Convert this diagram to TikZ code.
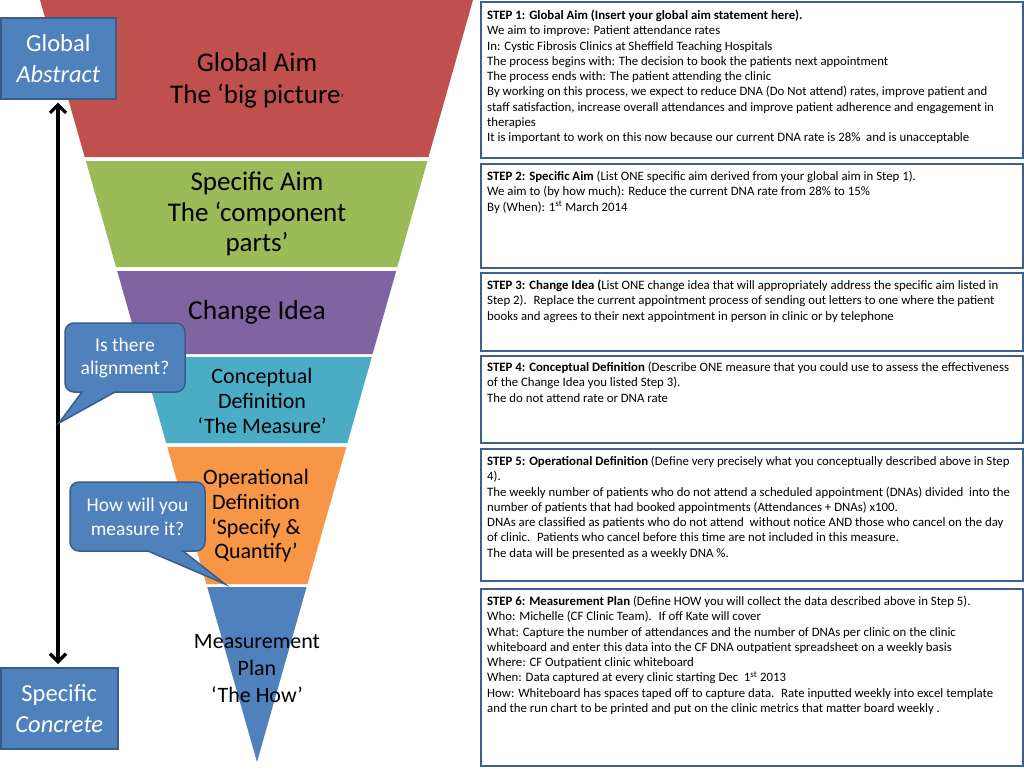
\documentclass[tikz,border=0pt]{standalone}
\usepackage{fontspec}
\setmainfont{Carlito}
\usetikzlibrary{arrows.meta}
\definecolor{cred}{HTML}{C0504D}
\definecolor{cgreen}{HTML}{9BBB59}
\definecolor{cpurple}{HTML}{8064A2}
\definecolor{cteal}{HTML}{4BACC6}
\definecolor{corange}{HTML}{F79646}
\definecolor{cblue}{HTML}{4F81BD}
\definecolor{cdark}{HTML}{385D8A}
\definecolor{cframe}{HTML}{3F5F8C}
\tikzset{
  funlabel/.style={align=center, text=black, inner sep=0},
  sidebox/.style={draw=cdark, line width=1.6pt, fill=cblue, text=white, align=center, inner sep=0, font=\fontsize{24.5}{31}\selectfont},
  callout/.style={draw=cdark, line width=1.5pt, fill=cblue},
  calltext/.style={text=white, align=center, inner sep=0, font=\fontsize{19.5}{23.5}\selectfont},
  stepbox/.style={draw=cframe, line width=2pt, fill=white, inner sep=0, anchor=north west, minimum width=542},
  steptext/.style={anchor=north west, align=left, inner sep=0, font=\fontsize{12.8}{15.25}\selectfont},
}
\begin{document}
\begin{tikzpicture}[x=1pt,y=-1pt]
\useasboundingbox (0,0) rectangle (1024,768);
\fill[white] (0,0) rectangle (1024,768);
% funnel
\fill[cred] (40,0) -- (473,0) -- (428.5,157) -- (84.7,157) -- cycle;
\fill[cgreen] (85.9,161) -- (427.4,161) -- (397.3,267) -- (116.0,267) -- cycle;
\fill[cpurple] (117.2,271) -- (396.2,271) -- (372.6,354) -- (140.8,354) -- cycle;
\fill[cteal] (141.7,357) -- (371.8,357) -- (347.4,443) -- (166.2,443) -- cycle;
\fill[corange] (167.3,447) -- (346.3,447) -- (307.4,584) -- (206.3,584) -- cycle;
\fill[cblue] (207.2,587) -- (306.6,587) -- (257,762) -- cycle;
% funnel labels
\node[funlabel, font=\fontsize{27}{32}\selectfont] (l1) at (257,80) {Global Aim\\The ‘big picture{\fontsize{13}{13}\selectfont ’}};
\node[funlabel, font=\fontsize{27}{30.5}\selectfont] (l2) at (257,214) {Specific Aim\\The ‘component\\parts’};
\node[funlabel, font=\fontsize{27.5}{30}\selectfont] (l3) at (257,312) {Change Idea};
\node[funlabel, font=\fontsize{22}{25}\selectfont] (l4) at (262,401) {Conceptual\\Definition\\‘The Measure’};
\node[funlabel, font=\fontsize{22}{24.7}\selectfont] (l5) at (256,516) {Operational\\Definition\\‘Specify \&\\Quantify’};
\node[funlabel, font=\fontsize{22}{27}\selectfont] (l6) at (257,669) {Measurement\\Plan\\‘The How’};
% side boxes
\node[sidebox, minimum width=115, minimum height=81, anchor=north west] (ga) at (0,17) {Global\\\textit{Abstract}};
\node[sidebox, minimum width=117, minimum height=81, anchor=north west] (sc) at (0,667) {Specific\\\textit{Concrete}};
\draw[line width=3.2pt, {Straight Barb[length=8pt,width=16pt,line width=3.2pt]}-{Straight Barb[length=8pt,width=16pt,line width=3.2pt]}] ([yshift=-3pt]ga.south -| 58,0) -- ([yshift=3pt]sc.north -| 58,0);
% callouts
\coordinate (t1) at (59,423);
\draw[callout] (115,392) [rounded corners=9pt] -- (185,392) -- (185,323) -- (65,323) -- (65,392) [sharp corners] -- (82,392) -- (t1) -- cycle;
\node[calltext] (c1) at (125,358) {Is there\\alignment?};
\coordinate (t2) at (225,584);
\draw[callout] (183,551) [rounded corners=9pt] -- (205,551) -- (205,482) -- (70,482) -- (70,551) [sharp corners] -- (148,551) -- (t2) -- cycle;
\node[calltext] (c2) at (137.5,517) {How will you\\measure it?};
% step boxes
\node[stepbox, minimum height=156] (b1) at (480,1) {};
\node[stepbox, minimum height=104] (b2) at (480,163) {};
\node[stepbox, minimum height=78] (b3) at (480,272) {};
\node[stepbox, minimum height=87] (b4) at (480,355) {};
\node[stepbox, minimum height=132] (b5) at (480,448) {};
\node[stepbox, minimum height=177] (b6) at (480,588) {};
\node[steptext] (s1) at ([shift={(7,9)}]b1.north west) {\textbf{STEP 1: Global Aim (Insert your global aim statement here).}\\
We aim to improve: Patient attendance rates\\
In: Cystic Fibrosis Clinics at Sheffield Teaching Hospitals\\
The process begins with: The decision to book the patients next appointment\\
The process ends with: The patient attending the clinic\\
By working on this process, we expect to reduce DNA (Do Not attend) rates, improve patient and\\
staff satisfaction, increase overall attendances and improve patient adherence and engagement in\\
therapies\\
It is important to work on this now because our current DNA rate is 28\%~ and is unacceptable};
\node[steptext] (s2) at ([shift={(7,8)}]b2.north west) {\textbf{STEP 2: Specific Aim} (List ONE specific aim derived from your global aim in Step 1).\\
We aim to (by how much): Reduce the current DNA rate from 28\% to 15\%\\
By (When): 1\textsuperscript{st} March 2014};
\node[steptext] (s3) at ([shift={(7,8)}]b3.north west) {\textbf{STEP 3: Change Idea (}List ONE change idea that will appropriately address the specific aim listed in\\
Step 2).~ Replace the current appointment process of sending out letters to one where the patient\\
books and agrees to their next appointment in person in clinic or by telephone};
\node[steptext] (s4) at ([shift={(7,7)}]b4.north west) {\textbf{STEP 4: Conceptual Definition} (Describe ONE measure that you could use to assess the effectiveness\\
of the Change Idea you listed Step 3).\\
The do not attend rate or DNA rate};
\node[steptext] (s5) at ([shift={(7,8)}]b5.north west) {\textbf{STEP 5: Operational Definition} (Define very precisely what you conceptually described above in Step\\
4).\\
The weekly number of patients who do not attend a scheduled appointment (DNAs) divided~ into the\\
number of patients that had booked appointments (Attendances + DNAs) x100.\\
DNAs are classified as patients who do not attend~ without notice AND those who cancel on the day\\
of clinic.~ Patients who cancel before this time are not included in this measure.\\
The data will be presented as a weekly DNA \%.};
\node[steptext] (s6) at ([shift={(7,8)}]b6.north west) {\textbf{STEP 6: Measurement Plan} (Define HOW you will collect the data described above in Step 5).\\
Who: Michelle (CF Clinic Team).~ If off Kate will cover\\
What: Capture the number of attendances and the number of DNAs per clinic on the clinic\\
whiteboard and enter this data into the CF DNA outpatient spreadsheet on a weekly basis\\
Where: CF Outpatient clinic whiteboard\\
When: Data captured at every clinic starting Dec~ 1\textsuperscript{st} 2013\\
How: Whiteboard has spaces taped off to capture data.~ Rate inputted weekly into excel template\\
and the run chart to be printed and put on the clinic metrics that matter board weekly .};
\end{tikzpicture}
\end{document}
